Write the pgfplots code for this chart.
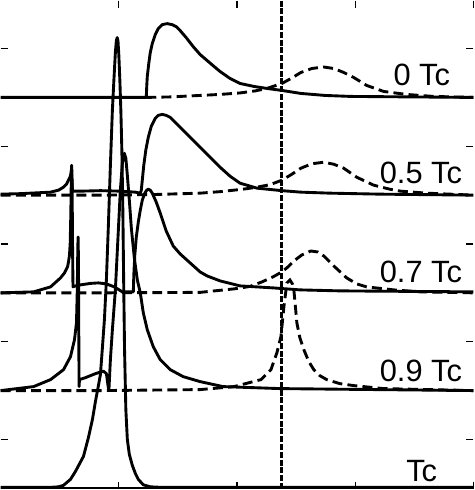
\documentclass[border=0pt]{standalone}
\usepackage{fontspec}
\setmainfont{Liberation Sans}
\usepackage{pgfplots}
\pgfplotsset{compat=1.18}
\tikzset{
  sol/.style={black, line width=1.45pt, line join=round},
  dsh/.style={black, line width=1.45pt, dash pattern=on 5bp off 2.6bp},
  lab/.style={anchor=base east, inner sep=0pt, font=\fontsize{15.5}{17}\selectfont},
}
\begin{document}
\begin{tikzpicture}
\begin{axis}[
  scale only axis,
  width=237bp, height=245bp,
  xmin=0, xmax=474, ymin=0, ymax=490,
  y dir=reverse,
  axis line style={draw=none},
  xtick={118,237,356,474}, ytick={48,146,244,342,440},
  xticklabels={}, yticklabels={},
  tick label style={overlay},
  tick align=inside,
  major tick length=3.5bp,
  tick style={black, line width=0.7pt},
]
% vertical reference line
\addplot[black, line width=1.5pt, dash pattern=on 3bp off 0.9bp] coordinates {(282,0) (282,490)};

% 0 Tc
\addplot[sol] coordinates {(0,97) (146,97) (146.5,85) (147,76) (148.5,63) (150,52) (152,43) (155,34) (158,28) (162,24) (167,23) (172,24) (176,26) (180,30) (186,37) (193,46) (200,54) (207,60) (214,66) (220,71) (230,78) (240,83) (254,86) (267,88) (282,90) (301,93) (325,95) (351,96) (474,97)};
\addplot[dsh] coordinates {(146,97) (170,96.5) (200,95) (220,94) (240,92.5) (255,90.5) (267,88) (282,83) (292,77.5) (301,72) (312,68) (324,66.5) (334,68) (344,72) (354,77) (367,85) (384,91) (407,94) (434,96) (474,97)};

% 0.5 Tc
\addplot[sol] coordinates {(0,194) (20,193.5) (40,192.5) (50,192) (58,190) (63,187) (66,184) (68,180) (69.5,177) (70.3,174) (70.8,170) (71.3,178) (72,191) (80,191) (100,190.5) (120,191) (135,192) (140,193) (141,190) (142,180) (143.5,165) (145.5,150) (148,137) (151,126) (155,118) (158,115) (162,114) (166,115) (170,117) (175,122) (180,127) (187,134) (194,141) (200,147) (207,154) (214,161) (220,167) (230,176) (240,183) (257,188) (282,190.5) (301,192) (330,193) (380,194) (474,195)};
\addplot[dsh] coordinates {(0,195) (100,195) (150,194.5) (200,193) (220,191.5) (234,190) (247,188.5) (257,187) (270,184.5) (282,180) (292,174) (301,168) (312,163.5) (324,162) (334,164) (344,168) (357,177) (374,185) (390,189) (401,191) (427,193) (474,195)};

% 0.7 Tc
\addplot[sol] coordinates {(0,293) (33,292) (50,287) (60,278) (64,273) (67,267) (68,262) (69,255) (69.7,243) (70.3,215) (70.8,180) (71.2,165) (71.6,180) (72,240) (72.5,287) (75,286) (80,285) (90,283.5) (98,283) (106,284) (114,287) (122,292) (133,292) (133.5,275) (134.5,255) (136,237) (138,222) (140,210) (142,200) (144.5,193) (146.5,190) (148,189) (150,190) (152,193) (156,202) (160,213) (166,231) (173,246) (180,254) (190,263) (200,272) (207,276) (220,281) (240,286) (273,288) (300,290) (340,291) (474,292)};
\addplot[dsh] coordinates {(0,293) (100,293) (200,292.5) (234,289) (244,287.5) (250,286.5) (262,282) (273,277) (282,272) (288,267) (294,261) (302,255) (311,251) (318,252) (324,256) (334,266) (347,278) (357,284) (367,287) (394,290) (421,292) (474,293)};

% 0.9 Tc
\addplot[sol] coordinates {(0,391) (33,387) (50,380) (63,370) (70,357) (74,340) (76,323) (76.8,290) (77.3,250) (77.6,237) (78,260) (78.3,330) (78.6,387) (79,380) (85,378) (95,374) (103,371.5) (106,374) (107.5,385) (108.5,391) (110,360) (112,330) (115,290) (118,230) (120,190) (122,163) (124,153) (125.5,158) (127,175) (129,200) (131,228) (134,258) (137,280) (140,293) (143,313) (147,330) (153,347) (160,360) (170,370) (183,377) (200,382) (223,387) (280,389) (474,391)};
\addplot[dsh] coordinates {(0,391) (100,391) (200,390) (234,387) (261,380) (271,370) (277,353) (281,337) (284,307) (287,283) (290,280) (292.5,284) (294,290) (297,323) (300,338) (304,350) (309,362) (314,370) (320,376) (327,380) (340,384) (354,386) (384,389) (474,391)};

% Tc
\addplot[sol] coordinates {(0,488) (50,488) (58,487.5) (63,486) (70,480) (75,472) (83,457) (88,438) (92,420) (95,402) (98,386) (100,375) (102,348) (104,320) (106,280) (108,225) (110,165) (112,110) (113.5,80) (115,52) (116,40) (116.8,37) (117.6,40) (118.5,55) (119.5,80) (120.5,110) (121.5,150) (122.5,210) (123.3,280) (124.2,350) (125.5,410) (127,440) (129,455) (132,466) (135,474) (138,480) (143,485.5) (150,487.5) (160,488) (474,488)};

\draw[black, line width=1pt] (axis cs:0,489) -- (axis cs:474,489);

\node[lab] at (axis cs:451,85) {0 Tc};
\node[lab] at (axis cs:463,183) {0.5 Tc};
\node[lab] at (axis cs:463,283) {0.7 Tc};
\node[lab] at (axis cs:463,382) {0.9 Tc};
\node[lab] at (axis cs:438,482) {Tc};
\end{axis}
\end{tikzpicture}
\end{document}
